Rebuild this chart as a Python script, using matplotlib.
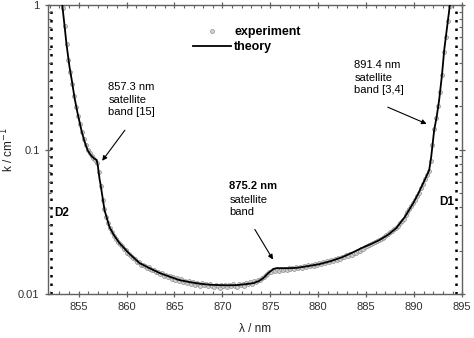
import matplotlib
matplotlib.use("Agg")
import matplotlib.pyplot as plt
from matplotlib.ticker import FixedLocator, NullFormatter, FixedFormatter, MultipleLocator

plt.rcParams['font.family'] = ['Liberation Sans', 'DejaVu Sans']

# Calculated absorption coefficient (theory)
theory_wl = [853.15, 853.3, 853.5, 853.75, 854.06, 854.3, 854.58, 854.9, 855.31, 855.6,
             855.94, 856.3, 856.6, 856.88, 857.0, 857.19, 857.3, 857.71, 858.23, 858.7,
             859.27, 860.3, 861.35, 862.4, 863.44, 864.5, 865.52, 866.6, 867.6, 868.7,
             869.69, 870.6, 871.46, 872.4, 873.23, 873.8, 874.27, 874.8, 875.31, 875.6,
             876.98, 877.8, 878.9, 880.1, 881.3, 882.5, 883.65, 884.5, 885.5, 886.35,
             887.3, 888.13, 889.0, 889.9, 890.45, 890.94, 891.3, 891.56, 891.77, 892.08,
             892.35, 892.6, 892.9, 893.13, 893.4, 893.65, 893.85]
theory_k = [1.25, 1.0, 0.76, 0.53, 0.372, 0.30, 0.228, 0.178, 0.135, 0.115,
            0.099, 0.091, 0.087, 0.0845, 0.078, 0.0625, 0.057, 0.038, 0.029, 0.0255,
            0.0225, 0.019, 0.0164, 0.0151, 0.0140, 0.0132, 0.0125, 0.0121, 0.0118, 0.0116,
            0.01153, 0.0115, 0.01153, 0.0117, 0.0119, 0.0123, 0.0129, 0.0140, 0.0149, 0.0151,
            0.0151, 0.0152, 0.0156, 0.0161, 0.0169, 0.0180, 0.0195, 0.0208, 0.0222, 0.0236,
            0.0258, 0.0286, 0.0340, 0.0426, 0.050, 0.0586, 0.066, 0.072, 0.0887, 0.136,
            0.170, 0.220, 0.33, 0.489, 0.68, 0.92, 1.2]

# Measured absorption coefficient (experiment)
exp_wl = [853.35, 853.55, 853.75, 853.95, 854.15, 854.35, 854.55, 854.75, 854.95, 855.15,
          855.35, 855.55, 855.75, 855.95, 856.15, 856.35, 856.55, 856.75, 856.95, 857.1,
          857.3, 857.5, 857.7, 857.9, 858.1, 858.3, 858.5, 858.7, 858.9, 859.1,
          859.3, 859.5, 859.7, 859.9, 860.1, 860.3, 860.5, 860.7, 860.9, 861.1,
          861.3, 861.5, 861.7, 861.9, 862.1, 862.3, 862.5, 862.7, 862.9, 863.1,
          863.3, 863.5, 863.7, 863.9, 864.1, 864.3, 864.5, 864.7, 864.9, 865.1,
          865.3, 865.5, 865.7, 865.9, 866.1, 866.3, 866.5, 866.7, 866.9, 867.1,
          867.3, 867.5, 867.7, 867.9, 868.1, 868.3, 868.5, 868.7, 868.9, 869.1,
          869.3, 869.5, 869.7, 869.9, 870.1, 870.3, 870.5, 870.7, 870.9, 871.1,
          871.3, 871.5, 871.7, 871.9, 872.1, 872.3, 872.5, 872.7, 872.9, 873.1,
          873.3, 873.5, 873.7, 873.9, 874.1, 874.3, 874.5, 874.7, 874.9, 875.1,
          875.3, 875.5, 875.7, 875.9, 876.1, 876.3, 876.5, 876.7, 876.9, 877.1,
          877.3, 877.5, 877.7, 877.9, 878.1, 878.3, 878.5, 878.7, 878.9, 879.1,
          879.3, 879.5, 879.7, 879.9, 880.1, 880.3, 880.5, 880.7, 880.9, 881.1,
          881.3, 881.5, 881.7, 881.9, 882.1, 882.3, 882.5, 882.7, 882.9, 883.1,
          883.3, 883.5, 883.7, 883.9, 884.1, 884.3, 884.5, 884.7, 884.9, 885.1,
          885.3, 885.5, 885.7, 885.9, 886.1, 886.3, 886.5, 886.7, 886.9, 887.1,
          887.3, 887.5, 887.7, 887.9, 888.1, 888.3, 888.5, 888.7, 888.9, 889.1,
          889.3, 889.5, 889.7, 889.9, 890.1, 890.3, 890.5, 890.7, 890.9, 891.1,
          891.3, 891.5, 891.7, 891.9, 892.1, 892.3, 892.5, 892.7, 892.9, 893.1,
          893.3, 893.5, 893.7]
exp_k = [0.95, 0.72, 0.54, 0.42, 0.345, 0.285, 0.236, 0.198, 0.172, 0.150,
         0.132, 0.118, 0.107, 0.100, 0.094, 0.090, 0.087, 0.085, 0.081, 0.070,
         0.056, 0.045, 0.039, 0.034, 0.031, 0.0285, 0.0268, 0.0252, 0.0240, 0.0229,
         0.0222, 0.0214, 0.0205, 0.0201, 0.0193, 0.0190, 0.0182, 0.0179, 0.0175, 0.0168,
         0.0166, 0.0160, 0.0158, 0.0157, 0.0151, 0.0154, 0.0148, 0.0146, 0.0147, 0.0141,
         0.0143, 0.0138, 0.0140, 0.0134, 0.0136, 0.0131, 0.0134, 0.0128, 0.0131, 0.0126,
         0.0129, 0.0123, 0.0127, 0.0121, 0.0124, 0.0119, 0.0123, 0.0118, 0.0121, 0.0116,
         0.0120, 0.0117, 0.0114, 0.0119, 0.0115, 0.0117, 0.0113, 0.0117, 0.0114, 0.0112,
         0.0116, 0.0113, 0.0111, 0.0116, 0.0113, 0.0115, 0.0112, 0.0116, 0.0113, 0.0117,
         0.0114, 0.0112, 0.0117, 0.0115, 0.0118, 0.0114, 0.0119, 0.0117, 0.0121, 0.0118,
         0.0123, 0.0121, 0.0126, 0.0125, 0.0130, 0.0131, 0.0136, 0.0137, 0.0142, 0.0141,
         0.0146, 0.0144, 0.0148, 0.0145, 0.0149, 0.0146, 0.0150, 0.0147, 0.0151, 0.0148,
         0.0152, 0.0150, 0.0153, 0.0151, 0.0155, 0.0152, 0.0157, 0.0154, 0.0158, 0.0156,
         0.0160, 0.0157, 0.0162, 0.0159, 0.0164, 0.0162, 0.0166, 0.0164, 0.0169, 0.0166,
         0.0171, 0.0170, 0.0174, 0.0172, 0.0178, 0.0176, 0.0181, 0.0180, 0.0185, 0.0183,
         0.0189, 0.0187, 0.0193, 0.0192, 0.0199, 0.0198, 0.0205, 0.0206, 0.0212, 0.0214,
         0.0219, 0.0221, 0.0226, 0.0229, 0.0233, 0.0236, 0.0241, 0.0246, 0.0250, 0.0256,
         0.0260, 0.0267, 0.0273, 0.0280, 0.0288, 0.0297, 0.0308, 0.0320, 0.0333, 0.0350,
         0.0368, 0.0388, 0.0408, 0.0428, 0.0448, 0.0475, 0.0502, 0.0540, 0.0580, 0.0625,
         0.0665, 0.0710, 0.083, 0.108, 0.138, 0.165, 0.200, 0.250, 0.330, 0.470,
         0.600, 0.780, 0.98]

# Cesium resonance lines
d_lines = {"D2": 852.1, "D1": 894.4}

x_major = [855, 860, 865, 870, 875, 880, 885, 890, 895]
y_major = [0.01, 0.1, 1]
y_major_labels = ["0.01", "0.1", "1"]

axis_grey = "#606060"

fig = plt.figure(figsize=(4.74, 3.38), dpi=100)
ax = fig.add_axes([0.101, 0.130, 0.874, 0.855])

ax.set_yscale("log")
ax.set_xlim(851.8, 895)
ax.set_ylim(0.01, 1)

for wl in d_lines.values():
    ax.axvline(wl, color="black", lw=1.8, linestyle=(0, (1, 2.4)), zorder=1)

exp_handle, = ax.plot(exp_wl, exp_k, linestyle="none", marker="o", markersize=2.8,
                      markerfacecolor="#d4d4d4", markeredgecolor="#8a8a8a",
                      markeredgewidth=0.5, zorder=2, label="experiment")
theory_handle, = ax.plot(theory_wl, theory_k, color="black", lw=1.3, zorder=3,
                         label="theory")

# ticks
ax.xaxis.set_major_locator(FixedLocator(x_major))
ax.xaxis.set_minor_locator(MultipleLocator(1))
ax.yaxis.set_major_locator(FixedLocator(y_major))
ax.yaxis.set_major_formatter(FixedFormatter(y_major_labels))
ax.yaxis.set_minor_locator(FixedLocator([m * d for d in (0.01, 0.1) for m in range(2, 10)]))
ax.yaxis.set_minor_formatter(NullFormatter())
ax.tick_params(axis="both", which="major", direction="inout", length=5, width=0.9,
               color=axis_grey, labelsize=8, labelcolor="#303030",
               top=True, right=True)
ax.tick_params(axis="both", which="minor", direction="in", length=2.5, width=0.8,
               color=axis_grey, top=True, right=True)
ax.tick_params(axis="x", pad=3)
for sp in ax.spines.values():
    sp.set_color(axis_grey)
    sp.set_linewidth(1.0)

ax.set_xlabel("λ / nm", fontsize=8.5, labelpad=8, color="#202020")
ax.set_ylabel("k / cm$^{-1}$", fontsize=8.5, labelpad=1, color="#202020")

# legend
ax.legend(handles=[exp_handle, theory_handle], loc="upper left",
          bbox_to_anchor=(193 / 474, 1 - 26 / 338), bbox_transform=fig.transFigure,
          frameon=False, borderpad=0, borderaxespad=0, handlelength=3.0,
          handletextpad=0.3, labelspacing=0.25, numpoints=1,
          prop={"weight": "bold", "size": 9})

# annotations
ax.text(858.1, 0.293, "857.3 nm\nsatellite\nband [15]", fontsize=8,
        ha="left", va="top", linespacing=1.3)
ax.annotate("", xy=(857.29, 0.0807), xytext=(860.0, 0.141),
            arrowprops=dict(arrowstyle="-|>", lw=0.8, color="black", mutation_scale=7))

ax.text(883.75, 0.416, "891.4 nm\nsatellite\nband [3,4]", fontsize=8,
        ha="left", va="top", linespacing=1.3)
ax.annotate("", xy=(891.56, 0.148), xytext=(886.98, 0.200),
            arrowprops=dict(arrowstyle="-|>", lw=0.8, color="black", mutation_scale=7))

ax.text(870.73, 0.0605, "875.2 nm", fontsize=8, fontweight="bold", ha="left", va="top")
ax.text(870.73, 0.0605 * 0.795, "satellite\nband", fontsize=8, ha="left", va="top",
        linespacing=1.2)
ax.annotate("", xy=(875.42, 0.0167), xytext=(873.23, 0.0291),
            arrowprops=dict(arrowstyle="-|>", lw=0.8, color="black", mutation_scale=7))

ax.text(852.5, 0.0363, "D2", fontsize=8.5, fontweight="bold", ha="left", va="center")
ax.text(894.17, 0.0433, "D1", fontsize=8.5, fontweight="bold", ha="right", va="center")

fig.savefig("out.png", dpi=100)
